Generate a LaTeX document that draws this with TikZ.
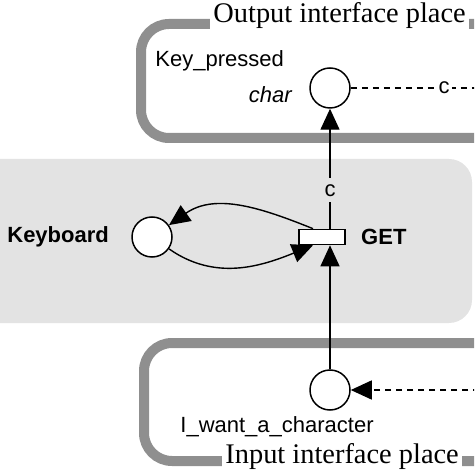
\documentclass[tikz,border=0pt]{standalone}
\usepackage{fontspec}
\setmainfont{Liberation Serif}
\setsansfont{Liberation Sans}
\usetikzlibrary{arrows.meta, positioning}

\begin{document}
\begin{tikzpicture}[x=0.5pt, y=-0.5pt,
    place/.style={circle, draw, line width=0.75pt, fill=white, minimum size=20pt, inner sep=0pt},
    trans/.style={rectangle, draw, line width=0.8pt, fill=white, minimum width=23pt, minimum height=7.5pt, inner sep=0pt},
    lbl/.style={font=\sffamily\fontsize{11}{13}\selectfont, inner sep=0pt},
    iface/.style={font=\fontsize{14.2}{17}\selectfont, fill=white, inner xsep=1.5pt, inner ysep=2pt},
    band/.style={draw=black!44, line width=5pt, rounded corners=14pt},
    arc/.style={line width=0.7pt, -{Triangle[length=10.5pt, width=9.5pt]}},
    dashln/.style={line width=0.55pt, dash pattern=on 3pt off 2.5pt}]
    \useasboundingbox (0,0) rectangle (474,474);
    \clip (0,0) rectangle (474,474);

    \fill[black!11, rounded corners=11.5pt] (-30,159) rectangle (472,323);
    \draw[band] (490,24) -- (141,24) -- (141,138) -- (490,138);
    \draw[band] (490,343) -- (144,343) -- (144,461) -- (490,461);
    \node[iface, anchor=base west] (outTitle) at (210,23) {Output interface place};
    \node[iface, anchor=base west] (inTitle) at (222,463) {Input interface place};

    \node[place] (keyboard) at (152,237) {};
    \node[trans] (get) at (322,237) {};
    \node[place] (keyPressed) at (330,88) {};
    \node[place] (wantChar) at (330,390) {};
    \coordinate (outRight) at (490,88);
    \coordinate (inRight) at (490,390);

    \node[lbl, font=\sffamily\bfseries\fontsize{11}{13}\selectfont, left=11pt of keyboard] {Keyboard};
    \node[lbl, font=\sffamily\bfseries\fontsize{11}{13}\selectfont, right=7.5pt of get] {GET};
    \node[lbl, anchor=base west] at (155,67) {Key\_pressed};
    \node[lbl, anchor=base east] at (292,103) {\itshape char};
    \node[lbl, anchor=base west] at (180,432) {I\_want\_a\_character};

    \draw[arc] ([xshift=-4.5pt]get.north) to[out=158, in=35] (keyboard);
    \draw[arc] (keyboard) to[out=-35, in=-158] ([xshift=-4.5pt]get.south);
    \draw[arc] (wantChar) -- (wantChar |- get.south);
    \draw[arc] (keyPressed |- get.north) -- node[lbl, pos=0.32, fill=black!11, inner ysep=3pt, inner xsep=1pt] {c} (keyPressed);
    \draw[dashln] (keyPressed) -- node[lbl, pos=0.67, fill=white, inner sep=1pt] {c} (outRight);
    \draw[dashln, arc] (inRight) -- (wantChar);
\end{tikzpicture}
\end{document}
